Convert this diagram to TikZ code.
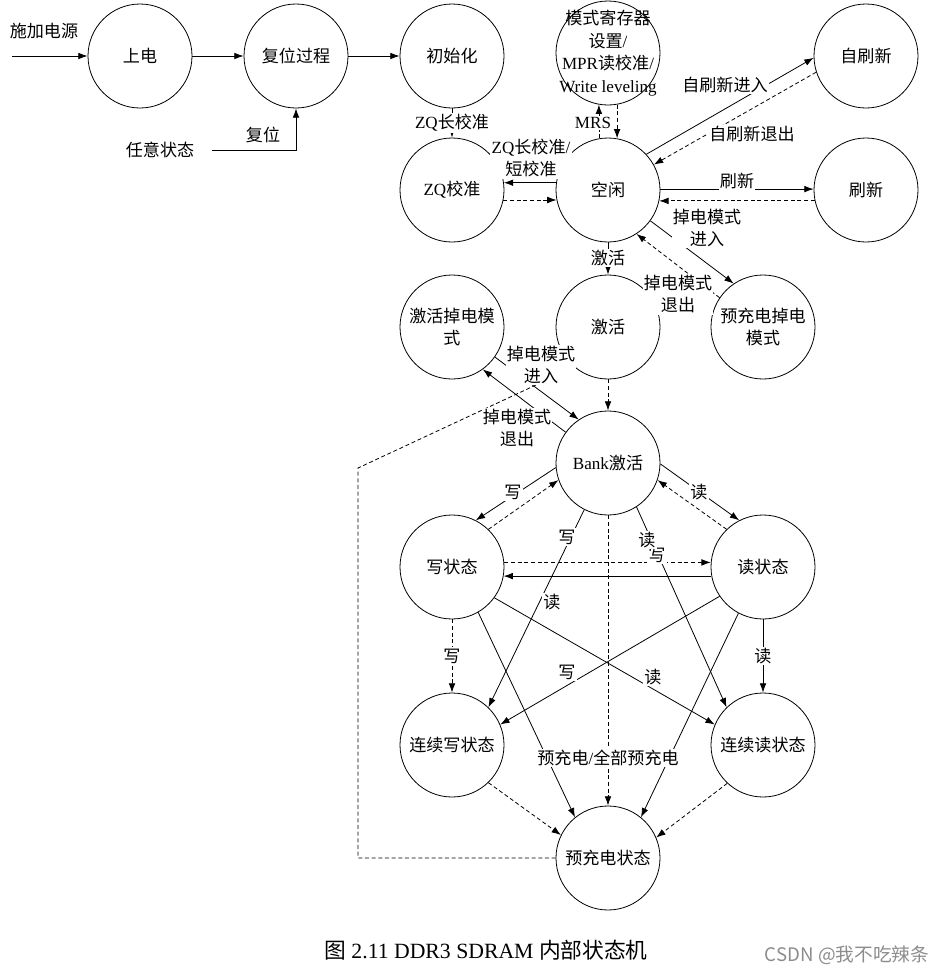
\documentclass[tikz,border=0pt]{standalone}
\usepackage{fontspec}
\setmainfont{Liberation Serif}
\newfontfamily\cjk{Noto Sans CJK SC}
\newcommand{\zh}[1]{{\cjk #1}}
\usetikzlibrary{arrows.meta}
\tikzset{
  state/.style={draw, circle, minimum size=78pt, inner sep=0pt, align=center},
  lbl/.style={fill=white, inner sep=1pt, align=center},
  dline/.style={dashed, dash pattern=on 3pt off 2pt},
}
\begin{document}
\begin{tikzpicture}[x=0.75pt, y=-0.75pt, line width=0.6pt,
    >={Latex[length=7pt,width=5pt]}, font=\fontsize{12.8}{17}\selectfont]
            \useasboundingbox (0,0) rectangle (947,975);

            % states
            \node[state] (pwr)   at (140,56)  {\zh{上电}};
            \node[state] (rst)   at (296,56)  {\zh{复位过程}};
            \node[state] (init)  at (452,56)  {\zh{初始化}};
            \node[state, inner sep=-11pt] (mrs) at (608,53)
                {\zh{模式寄存器}\\\zh{设置}/\\MPR\zh{读校准}/\\Write leveling};
            \node[state] (sref)  at (866,56)  {\zh{自刷新}};
            \node[state] (zq)    at (452,190) {ZQ\zh{校准}};
            \node[state] (idle)  at (608,190) {\zh{空闲}};
            \node[state] (ref)   at (866,190) {\zh{刷新}};
            \node[state] (actpd) at (452,327) {\zh{激活掉电模}\\\zh{式}};
            \node[state] (act)   at (608,327) {\zh{激活}};
            \node[state] (prepd) at (763,327) {\zh{预充电掉电}\\\zh{模式}};
            \node[state] (bank)  at (608,463) {Bank\zh{激活}};
            \node[state] (wr)    at (452,567) {\zh{写状态}};
            \node[state] (rd)    at (763,567) {\zh{读状态}};
            \node[state] (wra)   at (452,745) {\zh{连续写状态}};
            \node[state] (rda)   at (763,745) {\zh{连续读状态}};
            \node[state] (pre)   at (608,858) {\zh{预充电状态}};

            \node (src) at (44,31)  {\zh{施加电源}};
            \node (any) at (160,150) {\zh{任意状态}};
            \coordinate (in) at (12,56);

            % power-up
            \draw[->] (in) -- (pwr);
            \draw[->] (pwr) -- (rst);
            \draw[->] (rst) -- (init);
            \draw[->] ([xshift=10pt]any.east) -| (rst);
            \draw[->] (init) -- (zq);

            % idle
            \draw[dline,->] (mrs.-80) -- (idle.80);
            \draw[dline,->] (idle.100) -- (mrs.-100);
            \draw[->] (idle.172) -- (zq.8);
            \draw[dline,->] (zq.-11) -- (idle.-169);
            \draw[->] (idle.43) -- (sref.-178);
            \draw[dline,->] (sref.-162) -- (idle.29);
            \draw[->] (idle.1) -- (ref.179);
            \draw[dline,->] (ref.-168) -- (idle.-12);
            \draw[->] (idle.-36) -- (prepd.124);
            \draw[dline,->] (prepd.146) -- (idle.-57);
            \draw[->] (idle) -- (act);

            % activate
            \draw[dline,->] (act) -- (bank);
            \draw[->] (actpd.-35) -- (bank.124);
            \draw[->] (bank.144) -- (actpd.-54);
            \draw[dline,->] (pre.west) -| (358,468) -- (act.-130);

            % bank
            \draw[->] (bank.-175) -- (wr.63);
            \draw[dline,->] (wr.46) -- (bank.-161);
            \draw[->] (bank.-1) -- (rd.117);
            \draw[dline,->] (rd.134) -- (bank.-19);
            \draw[->] (bank.-117) -- (wra.46);
            \draw[->] (bank.-57) -- (rda.134);
            \draw[dline,->] (bank) -- (pre);

            % read / write
            \draw[dline,->] (wr.5) -- (rd.175);
            \draw[->] (rd.-170) -- (wr.-10);
            \draw[dline,->] (wr) -- (wra);
            \draw[->] (rd) -- (rda);
            \draw[->] (wr.-36) -- (rda.157);
            \draw[->] (rd.-146) -- (wra.23);
            \draw[->] (wr.-60) -- (pre.129);
            \draw[->] (rd.-118) -- (pre.51);
            \draw[dline,->] (wra.-46) -- (pre.154);
            \draw[dline,->] (rda.-133) -- (pre.23);

            % labels
            \node[lbl] (l-rst)    at (263,135) {\zh{复位}};
            \node[lbl] (l-zql)    at (452,123) {ZQ\zh{长校准}};
            \node[lbl] (l-mrs)    at (593,123) {MRS};
            \node[lbl] (l-zqs)    at (531,158) {ZQ\zh{长校准}/\\\zh{短校准}};
            \node[lbl] (l-srin)   at (725,85)  {\zh{自刷新进入}};
            \node[lbl] (l-srout)  at (752,134) {\zh{自刷新退出}};
            \node[lbl] (l-ref)    at (737,181) {\zh{刷新}};
            \node[lbl] (l-pdin1)  at (707,228) {\zh{掉电模式}\\\zh{进入}};
            \node[lbl] (l-pdout1) at (678,294) {\zh{掉电模式}\\\zh{退出}};
            \node[lbl] (l-act)    at (608,258) {\zh{激活}};
            \node[lbl] (l-pdin2)  at (541,365) {\zh{掉电模式}\\\zh{进入}};
            \node[lbl] (l-pdout2) at (517,428) {\zh{掉电模式}\\\zh{退出}};
            \node[lbl] (l-w1)     at (513,492) {\zh{写}};
            \node[lbl] (l-r1)     at (699,492) {\zh{读}};
            \node[lbl] (l-w2)     at (567,537) {\zh{写}};
            \node[lbl] (l-w3)     at (657,555) {\zh{写}};
            \node[lbl] (l-r2)     at (647,540) {\zh{读}};
            \node[lbl] (l-r3)     at (552,602) {\zh{读}};
            \node[lbl] (l-w4)     at (452,656) {\zh{写}};
            \node[lbl] (l-r4)     at (763,656) {\zh{读}};
            \node[lbl] (l-w5)     at (567,672) {\zh{写}};
            \node[lbl] (l-r5)     at (653,677) {\zh{读}};
            \node[lbl] (l-pre)    at (608,758) {\zh{预充电}/\zh{全部预充电}};

            \node (caption) at (486,950)
                {\fontsize{16.3}{19}\selectfont\zh{图} 2.11 DDR3 SDRAM \zh{内部状态机}};
            \node[text=black!45] (watermark) at (847,955)
                {\cjk\fontsize{14}{16}\selectfont CSDN @我不吃辣条};
        \end{tikzpicture}
\end{document}
